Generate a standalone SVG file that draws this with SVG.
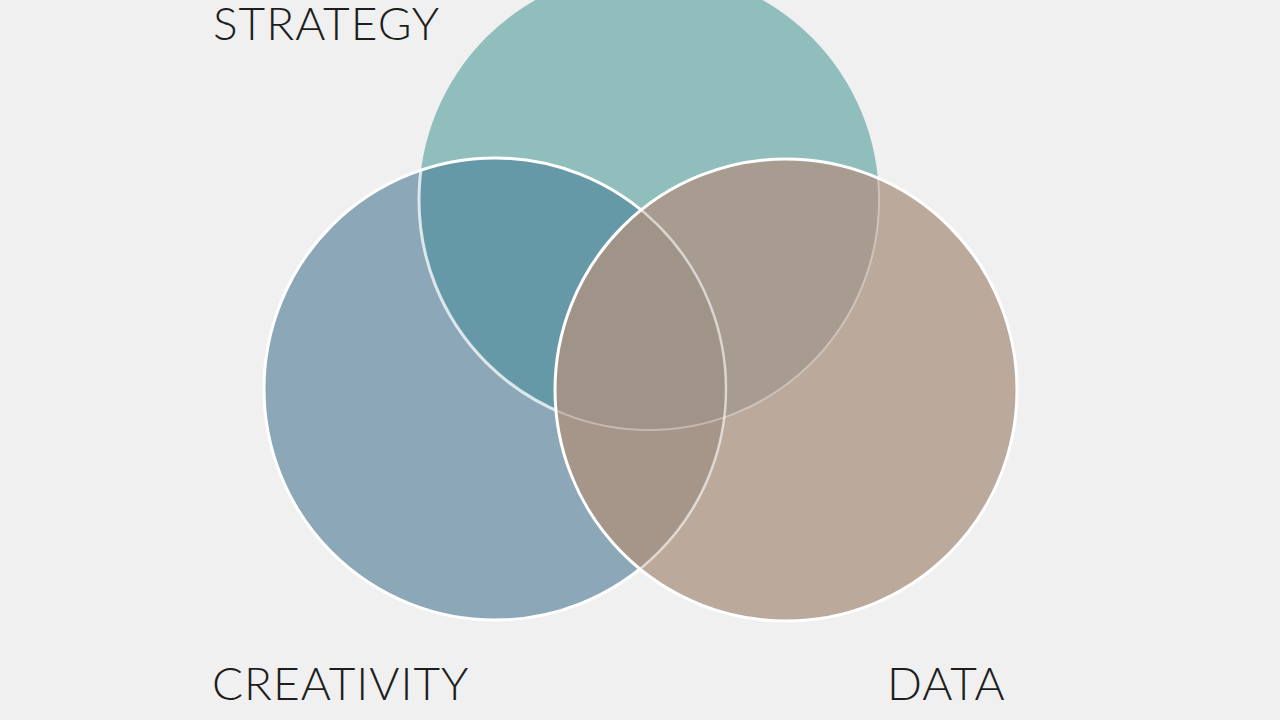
<svg xmlns="http://www.w3.org/2000/svg" width="1280" height="720" viewBox="0 0 1280 720">
<defs>
<style>
.lbl{font-family:"Lato","Liberation Sans",sans-serif;font-weight:300;font-size:46px;fill:#1e1e1e;letter-spacing:1px}
.edge{fill:none;stroke:#ffffff;stroke-width:3}
</style>
<clipPath id="cT"><circle cx="649" cy="200" r="230"/></clipPath>
<clipPath id="cL"><circle cx="495" cy="389" r="231"/></clipPath>
<clipPath id="cR"><circle cx="786" cy="390" r="231"/></clipPath>
</defs>
<rect width="1280" height="720" fill="#f0f0f0"/>
<g id="strategy">
<circle cx="649" cy="200" r="230" fill="#8fbebc"/>
</g>
<g id="creativity">
<circle cx="495" cy="389" r="231" fill="#8ba7b8"/>
<circle cx="649" cy="200" r="230" fill="#6699a8" clip-path="url(#cL)"/>
<circle cx="649" cy="200" r="230" class="edge" stroke-opacity="0.75" clip-path="url(#cL)"/>
<circle cx="495" cy="389" r="231" class="edge"/>
</g>
<g id="data">
<circle cx="786" cy="390" r="231" fill="#bba99c"/>
<g clip-path="url(#cR)">
<circle cx="649" cy="200" r="230" fill="#a89b8f"/>
<circle cx="495" cy="389" r="231" fill="#a69689"/>
<g clip-path="url(#cT)"><circle cx="495" cy="389" r="231" fill="#a09387"/></g>
<circle cx="649" cy="200" r="230" fill="none" stroke="#ffffff" stroke-width="2" stroke-opacity="0.35"/>
<circle cx="495" cy="389" r="231" fill="none" stroke="#ffffff" stroke-width="2.5" stroke-opacity="0.6"/>
</g>
<circle cx="786" cy="390" r="231" class="edge"/>
</g>
<g id="labels">
<text class="lbl" x="213" y="40">STRATEGY</text>
<text class="lbl" x="212" y="700">CREATIVITY</text>
<text class="lbl" x="887" y="700">DATA</text>
</g>
<g id="connectors"/>
</svg>
